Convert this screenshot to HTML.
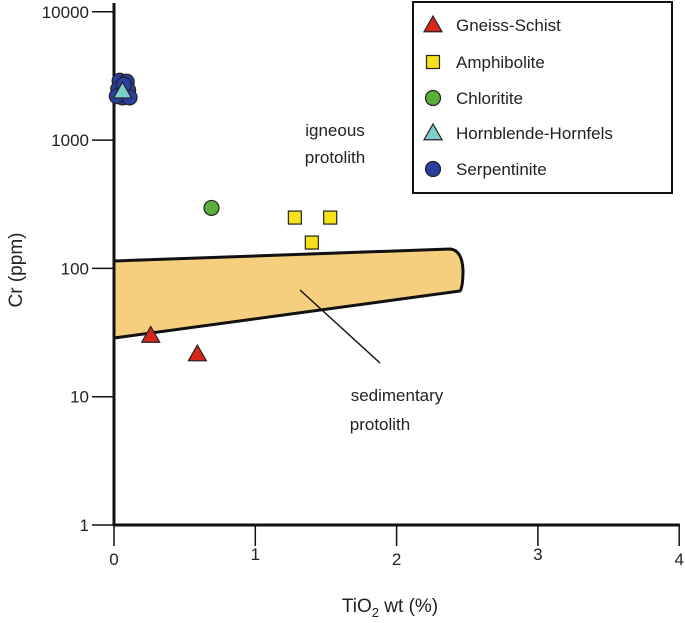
<!DOCTYPE html>
<html><head><meta charset="utf-8"><style>
body{margin:0;background:#fff}
svg{display:block;font-family:"Liberation Sans",sans-serif}
</style></head><body>
<svg id="chart" width="685" height="623" viewBox="0 0 685 623">
<g id="field">
<path d="M114,261 L450,249 Q462,250 463,270 Q463,287 460,291 L114,338 Z" fill="#f5cf7d" stroke="#111" stroke-width="3"/>
<line x1="300" y1="290" x2="380" y2="363" stroke="#111" stroke-width="1.5"/>
</g>
<g id="axes"></g>
<g id="marks"></g>
<text x="335" y="136" font-size="17" text-anchor="middle" fill="#222">igneous</text>
<text x="335" y="163" font-size="17" text-anchor="middle" fill="#222">protolith</text>
<text x="397" y="401" font-size="17" text-anchor="middle" fill="#222">sedimentary</text>
<text x="380" y="430" font-size="17" text-anchor="middle" fill="#222">protolith</text>
<text x="390" y="612" font-size="19" text-anchor="middle" fill="#222">TiO<tspan font-size="13" dy="5">2</tspan><tspan dy="-5"> wt (%)</tspan></text>
<text transform="translate(22,270) rotate(-90)" font-size="19" text-anchor="middle" fill="#222">Cr (ppm)</text>
<g id="legend">
<rect x="413" y="2" width="259" height="191" fill="#fff" stroke="#111" stroke-width="2"/>
</g>
</svg>
<script>
const xTicks=[0,1,2,3,4];
const yTicks=[1,10,100,1000,10000];
const seriesNames=["Gneiss-Schist","Amphibolite","Chloritite","Hornblende-Hornfels","Serpentinite"];
const gneissX=[0.26,0.59], gneissY=[30,21.5];
const amphX=[1.28,1.53,1.40], amphY=[249,249,159];
const chlorX=[0.69], chlorY=[296];
const serpX=[0.04,0.09,0.03,0.10,0.06,0.02,0.11,0.07], serpY=[2900,2850,2500,2450,2150,2200,2150,2700];
const hornX=[0.06], hornY=[2450];
const NS="http://www.w3.org/2000/svg";
const X=v=>114+v*141.3;
const Y=v=>525-Math.log10(v)*128.3;
function el(t,a,p){const e=document.createElementNS(NS,t);for(const k in a)e.setAttribute(k,a[k]);p.appendChild(e);return e;}
const axes=document.getElementById('axes'), marks=document.getElementById('marks'), leg=document.getElementById('legend');
const ax=el('line',{x1:114,y1:525,x2:680,y2:525,stroke:'#111','stroke-width':3},axes);


const ay=el('line',{x1:114,y1:3,x2:114,y2:526,stroke:'#111','stroke-width':3},axes);


xTicks.forEach(v=>{
 const x=X(v);
 el('line',{x1:x,y1:525,x2:x,y2:546,stroke:'#111','stroke-width':1.5},axes);
 const t=el('text',{x:x,y:v%2?560:565,'font-size':17,'text-anchor':'middle',fill:'#222'},axes);t.textContent=v;
 
 
});
yTicks.forEach(v=>{
 const y=Y(v);
 el('line',{x1:92,y1:y,x2:114,y2:y,stroke:'#111','stroke-width':1.5},axes);
 const t=el('text',{x:89,y:y+6,'font-size':17,'text-anchor':'end',fill:'#222'},axes);t.textContent=v;
 
 
});
function tri(cx,cy,s,fill,p){return el('path',{d:`M${cx},${cy-s} L${cx+s},${cy+s*0.75} L${cx-s},${cy+s*0.75} Z`,fill:fill,stroke:'#222','stroke-width':1.2},p);}
function sq(cx,cy,fill,p){return el('rect',{x:cx-6.5,y:cy-6.5,width:13,height:13,fill:fill,stroke:'#222','stroke-width':1.2},p);}
function circ(cx,cy,fill,p){return el('circle',{cx:cx,cy:cy,r:7.5,fill:fill,stroke:'#222','stroke-width':1.2},p);}
serpX.forEach((v,i)=>{const m=circ(X(v),Y(serpY[i]),'#2b3fa0',marks);
 
 });
hornX.forEach((v,i)=>{const m=tri(X(v),Y(hornY[i])+1,9,'#7ecfcc',marks);
 
 });
chlorX.forEach((v,i)=>{const m=circ(X(v),Y(chlorY[i]),'#5aae3a',marks);
 
 });
amphX.forEach((v,i)=>{const m=sq(X(v),Y(amphY[i]),'#f7e21a',marks);
 
 });
gneissX.forEach((v,i)=>{const m=tri(X(v),Y(gneissY[i]),9,'#d9261c',marks);
 
 });
const ly=[25,62,98,133,169];
seriesNames.forEach((n,i)=>{
 const y=ly[i];let m;
 if(i==0)m=tri(433,y,9,'#d9261c',leg);
 else if(i==1)m=sq(433,y,'#f7e21a',leg);
 else if(i==2)m=circ(433,y,'#5aae3a',leg);
 else if(i==3)m=tri(433,y,9,'#7ecfcc',leg);
 else m=circ(433,y,'#2b3fa0',leg);
 
 
 const t=el('text',{x:456,y:y+6,'font-size':17,fill:'#222'},leg);t.textContent=n;
 
 
});
</script>
</body></html>
